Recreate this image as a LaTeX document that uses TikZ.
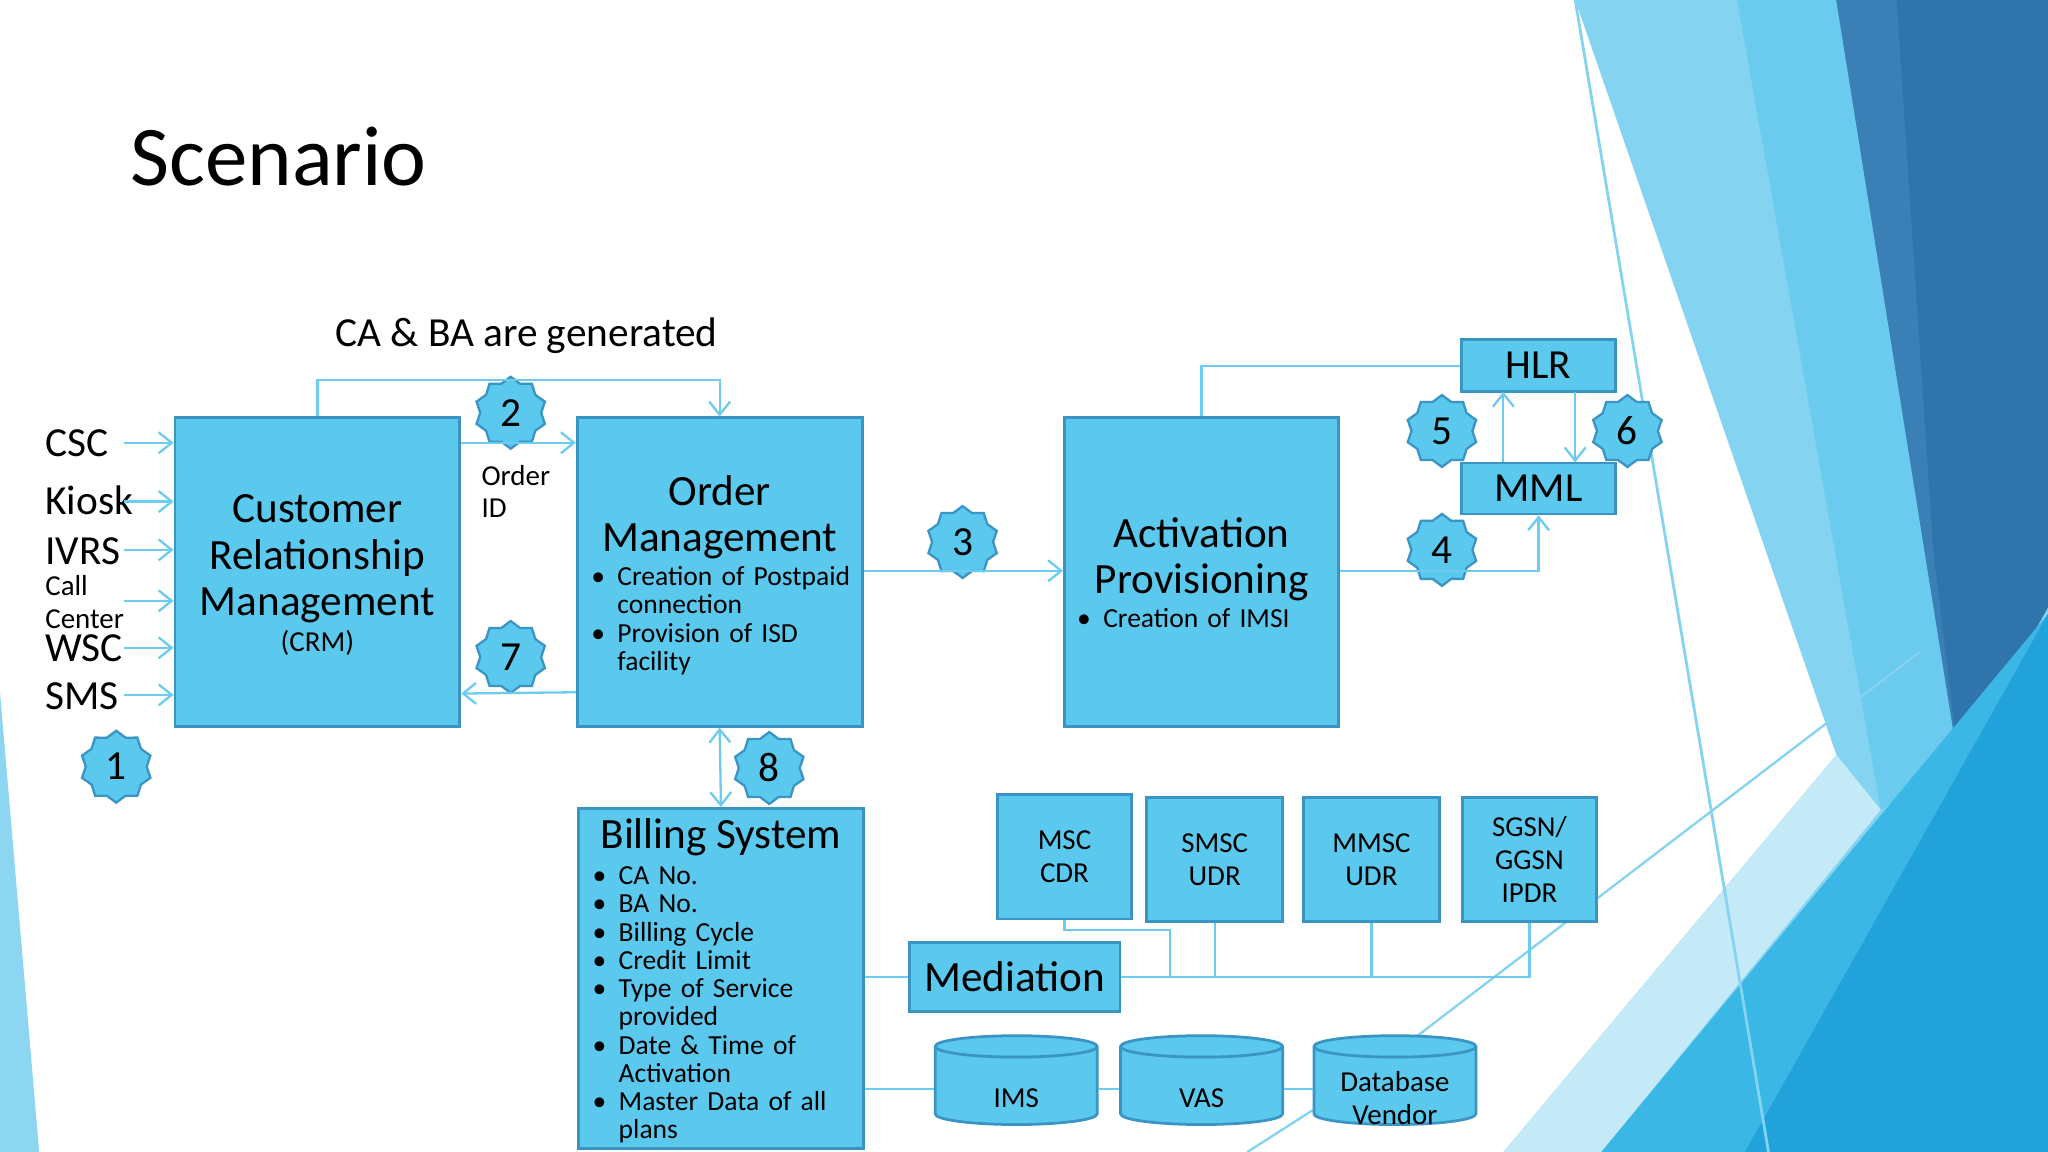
\documentclass[tikz,border=0pt]{standalone}
\usepackage{fontspec}
\setmainfont{Carlito}
\usetikzlibrary{shapes.geometric,arrows.meta}
\definecolor{bx}{HTML}{5BC8EE}
\definecolor{bd}{HTML}{3A94C4}
\definecolor{ln}{HTML}{6CCBEE}
\definecolor{cA}{HTML}{84D3F0}
\definecolor{cB}{HTML}{C4EAF8}
\definecolor{cC}{HTML}{6ACBEE}
\definecolor{cD}{HTML}{2F74AA}
\definecolor{cE}{HTML}{3A80B6}
\definecolor{cF}{HTML}{3BB7E6}
\definecolor{cG}{HTML}{22A2DA}
\definecolor{cH}{HTML}{8DD6F2}
\newcommand\itm[1]{\par\hyphenpenalty=10000 \hangindent=2mm\hangafter=1 \makebox[2mm][l]{•}#1}
\tikzset{
 box/.style={draw=bd,fill=bx,line width=0.6pt,inner sep=0pt},
 burst/.style={star,star points=10,star point ratio=1.18,draw=bd,fill=bx,line width=0.5pt,minimum size=0.55cm,inner sep=0pt,font=\fontsize{9}{9}\selectfont},
 con/.style={draw=ln,line width=0.5pt},
 arr/.style={con,-{Straight Barb[length=1mm,width=1.6mm]}},
 cyl/.style={cylinder,shape border rotate=90,aspect=0.7,draw=bd,fill=bx,line width=0.6pt,minimum width=1.24cm,minimum height=0.68cm},
 lbl/.style={anchor=west,font=\fontsize{9}{9}\selectfont,inner sep=0pt},
 sm/.style={font=\fontsize{6.3}{7.2}\selectfont,align=center},
 bul/.style={anchor=north west,inner sep=0pt,font=\fontsize{6}{6.15}\selectfont},
 big/.style={align=center,font=\fontsize{9.4}{10.1}\selectfont},
}
\begin{document}
\begin{tikzpicture}[x=0.01cm,y=-0.01cm]
\useasboundingbox (0,0) rectangle (1568,882);
% background
\fill[white] (0,0) rectangle (1568,882);
\fill[cA] (1206,0) -- (1568,0) -- (1568,882) -- (1151,882) -- (1406,578) -- cycle;
\fill[cB] (1406,578) -- (1151,882) -- (1226,882) -- (1440,620) -- cycle;
\fill[cC] (1330,0) -- (1406,0) -- (1500,587) -- (1440,620) -- cycle;
\fill[cD] (1406,0) -- (1568,0) -- (1568,465) -- (1500,587) -- cycle;
\fill[cE] (1406,0) -- (1452,0) -- (1480,420) -- (1500,587) -- cycle;
\fill[cF] (1226,882) -- (1568,470) -- (1568,882) -- cycle;
\fill[cG] (1336,882) -- (1568,470) -- (1568,882) -- cycle;
\draw[cA,line width=0.6pt] (1206,0) -- (1354,882);
\draw[cA,line width=0.5pt] (1080,797) -- (1470,499);
\draw[cA,line width=0.5pt] (1005,850) -- (955,882);
\fill[cH] (0,530) -- (30,882) -- (0,882) -- cycle;
% title
\node[anchor=west,inner sep=0pt,font=\fontsize{18.5}{20}\selectfont] (title) at (99,120) {Scenario};
\node[font=\fontsize{9}{9}\selectfont] (ca) at (403,257) {CA \& BA are generated};
% boxes
\node[box,minimum width=2.18cm,minimum height=2.36cm] (crm) at (243,438) {};
\node[big] at (243,428) {Customer\\Relationship\\Management};
\node[sm] at (243,492) {(CRM)};
\node[box,minimum width=2.18cm,minimum height=2.36cm] (om) at (551,438) {};
\node[big] at (551,396) {Order\\Management};
\node[bul,text width=2cm] at (452,426) {\itm{Creation of Postpaid\newline connection}\itm{Provision of ISD\newline facility}\par};
\node[box,minimum width=2.1cm,minimum height=2.36cm] (act) at (920,438) {};
\node[big] at (920,428) {Activation\\Provisioning};
\node[bul,text width=1.8cm] at (824,458) {\itm{Creation of IMSI}\par};
\node[box,minimum width=1.18cm,minimum height=0.4cm,font=\fontsize{9}{9}\selectfont] (hlr) at (1178,280) {HLR};
\node[box,minimum width=1.18cm,minimum height=0.39cm,font=\fontsize{9}{9}\selectfont] (mml) at (1178,374) {MML};
\node[box,minimum width=2.18cm,minimum height=2.6cm] (bill) at (552,749) {};
\node[font=\fontsize{9.4}{10}\selectfont] at (552,641) {Billing System};
\node[bul,text width=1.9cm] at (453,655) {\itm{CA No.}\itm{BA No.}\itm{Billing Cycle}\itm{Credit Limit}\itm{Type of Service\newline provided}\itm{Date \& Time of\newline Activation}\itm{Master Data of all\newline plans}\par};
\node[box,minimum width=1.03cm,minimum height=0.95cm,sm] (msc) at (815,656) {MSC\\CDR};
\node[box,minimum width=1.04cm,minimum height=0.95cm,sm] (smsc) at (930,658) {SMSC\\UDR};
\node[box,minimum width=1.04cm,minimum height=0.95cm,sm] (mmsc) at (1050,658) {MMSC\\UDR};
\node[box,minimum width=1.03cm,minimum height=0.95cm,sm] (sgsn) at (1171,658) {SGSN/\\GGSN\\IPDR};
\node[box,minimum width=1.61cm,minimum height=0.53cm,font=\fontsize{9.4}{9}\selectfont] (med) at (777,748) {Mediation};
\node[cyl] (ims) at (778,834) {};
\node[cyl] (vas) at (920,834) {};
\node[cyl] (db) at (1068,834) {};
\node[sm] at (778,841) {IMS};
\node[sm] at (920,841) {VAS};
\node[sm] at (1068,841) {Database\\Vendor};
% left labels
\node[lbl] (csc) at (34,339) {CSC};
\node[lbl] (kiosk) at (34,383) {Kiosk};
\node[lbl] (ivrs) at (34,422) {IVRS};
\node[lbl,sm,align=left] (cc) at (34,461) {Call\\Center};
\node[lbl] (wsc) at (34,496) {WSC};
\node[lbl] (sms) at (34,533) {SMS};
\foreach \y in {339,384,421,460,496,532} \draw[arr] (95,\y) -- (crm.west |- 0,\y);
% stars
\node[burst] (s1) at (89,587) {1};
\node[burst] (s2) at (391,316) {2};
\node[burst] (s3) at (737,415) {3};
\node[burst] (s4) at (1104,421) {4};
\node[burst] (s5) at (1104,330) {5};
\node[burst] (s6) at (1246,330) {6};
\node[burst] (s7) at (391,503) {7};
\node[burst] (s8) at (589,588) {8};
% connectors
\draw[arr] (crm.north) -- (243,291) -| (om.north);
\draw[arr] (crm.east |- 0,339) -- (om.west |- 0,339);
\node[anchor=north west,align=left,inner sep=0pt,font=\fontsize{6.3}{6.9}\selectfont] (oid) at (368,356) {Order\\ID};
\draw[arr] (om.west |- 0,530) -- (crm.east |- 0,531);
\draw[con,{Straight Barb[length=1mm,width=1.6mm]}-{Straight Barb[length=1mm,width=1.6mm]}] (om.south) -- (bill.north);
\draw[arr] (om.east |- 0,437) -- (act.west |- 0,437);
\draw[con] (act.north) |- (hlr.west);
\draw[arr] (act.east |- 0,437) -| (mml.south);
\draw[arr] (1151,354) -- (1151,300);
\draw[arr] (1206,300) -- (1206,354);
\draw[con] (bill.east |- 0,748) -- (med.west);
\draw[con] (med.east) -- (1171,748) -- (sgsn.south);
\draw[con] (mmsc.south) -- (1050,748);
\draw[con] (smsc.south) -- (930,748);
\draw[con] (msc.south) -- (815,712) -- (896,712) -- (896,748);
\draw[con] (bill.east |- 0,834) -- (ims.west);
\draw[con] (ims.east) -- (vas.west);
\draw[con] (vas.east) -- (db.west);
\end{tikzpicture}
\end{document}
